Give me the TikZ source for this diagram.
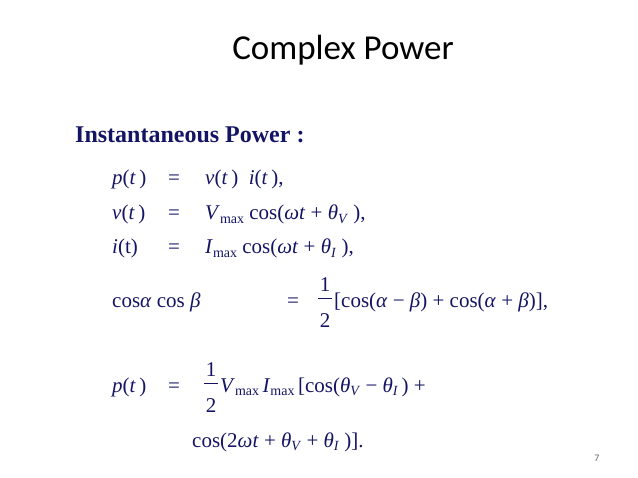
\documentclass[tikz,border=0pt]{standalone}
\usepackage{fontspec}
\setmainfont{Liberation Serif}
\newfontfamily\titlefont{Carlito}
\definecolor{eqc}{RGB}{20,20,100}
\newcommand{\vi}[1]{\textit{#1}}
\newcommand{\sbs}[1]{\raisebox{-0.35ex}{\fontsize{14bp}{16bp}\selectfont #1}}
\begin{document}
\begin{tikzpicture}[x=1bp,y=1bp,
  eq/.style={anchor=base west,inner sep=0pt,text=eqc,font=\fontsize{21bp}{24bp}\selectfont},
  fr/.style={anchor=base,inner sep=0pt,text=eqc,font=\fontsize{21bp}{24bp}\selectfont}]
\useasboundingbox (0,0) rectangle (638,-478);
\node[anchor=base,inner sep=0pt,font=\titlefont\fontsize{35bp}{38bp}\selectfont] (title) at (343,-60) {Complex Power};
\node[anchor=base west,inner sep=0pt,text=eqc,font=\bfseries\fontsize{24bp}{27bp}\selectfont] (hd) at (75,-143) {Instantaneous Power :};
% line 1
\node[eq] (a1) at (112,-185) {\vi{p}(\vi{t}\,)};
\node[eq] (a2) at (168,-185) {=};
\node[eq] (a3) at (205,-185) {\vi{v}(\vi{t}\,) \ \vi{i}(\vi{t}\,),};
% line 2
\node[eq] (b1) at (112,-220) {\vi{v}(\vi{t}\,)};
\node[eq] (b2) at (168,-220) {=};
\node[eq] (b3) at (205,-220) {\vi{V}\sbs{max} cos(\vi{ωt} + \vi{θ}\sbs{\vi{V}} ),};
% line 3
\node[eq] (c1) at (112,-254) {\vi{i}(t)};
\node[eq] (c2) at (168,-254) {=};
\node[eq] (c3) at (205,-254) {\vi{I}\sbs{max} cos(\vi{ωt} + \vi{θ}\sbs{\vi{I}} ),};
% line 4
\node[eq] (d1) at (112,-307) {cos\vi{α} cos \vi{β}};
\node[eq] (d2) at (287,-307) {=};
\node[fr] (d3) at (325,-291) {1};
\draw[eqc,line width=0.8bp] (318,-298) -- (332,-298);
\node[fr] (d4) at (325,-327) {2};
\node[eq] (d5) at (334,-307) {[cos(\vi{α} − \vi{β}) + cos(\vi{α} + \vi{β})],};
% line 5
\node[eq] (e1) at (112,-392) {\vi{p}(\vi{t}\,)};
\node[eq] (e2) at (168,-392) {=};
\node[fr] (e3) at (211,-376) {1};
\draw[eqc,line width=0.8bp] (204,-383) -- (218,-383);
\node[fr] (e4) at (211,-412) {2};
\node[eq] (e5) at (220,-392) {\vi{V}\sbs{max}\,\vi{I}\sbs{max}\,[cos(\vi{θ}\sbs{\vi{V}} − \vi{θ}\sbs{\vi{I}}\,) +};
% line 6
\node[eq] (f1) at (192,-447) {cos(2\vi{ωt} + \vi{θ}\sbs{\vi{V}} + \vi{θ}\sbs{\vi{I}} )].};
\node[anchor=base,inner sep=0pt,text=black!60,font=\titlefont\fontsize{10bp}{12bp}\selectfont] (pg) at (597,-461) {7};
\end{tikzpicture}
\end{document}
